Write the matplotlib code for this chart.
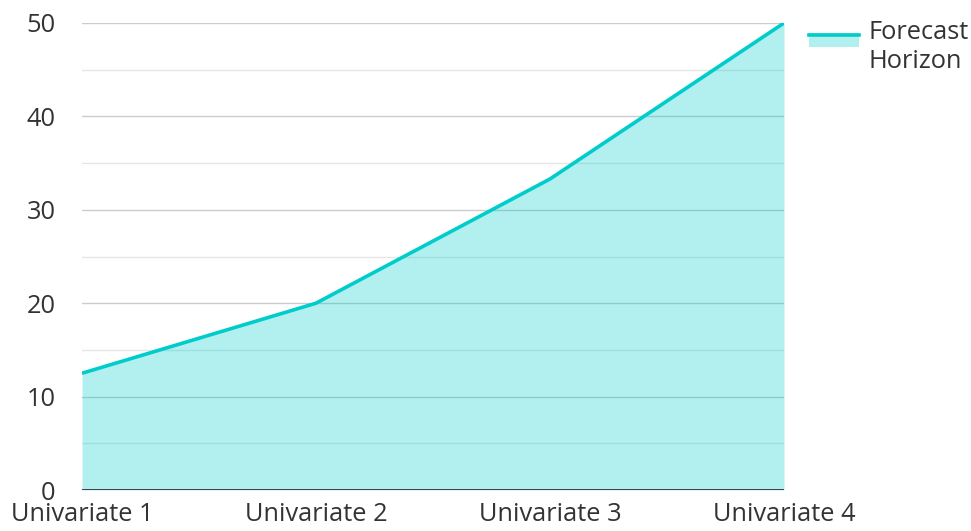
import matplotlib.pyplot as plt
from matplotlib.lines import Line2D
from matplotlib.patches import Rectangle

plt.rcParams['font.family'] = ['Open Sans', 'DejaVu Sans']

categories = ['Univariate 1', 'Univariate 2', 'Univariate 3', 'Univariate 4']
values = [12.5, 20, 33.3, 50]
series_name = 'Forecast\nHorizon'

line_color = '#00CCCC'
fill_color = '#00CCCC'
fs = 18.3

fig = plt.figure(figsize=(9.71, 5.31), dpi=100)
ax = fig.add_axes([82 / 971, 1 - 490 / 531, (784 - 82) / 971, (490 - 23) / 531])

x = range(len(categories))
ax.fill_between(x, values, 0, color=fill_color, alpha=0.3, lw=0, zorder=2)
ax.plot(x, values, color=line_color, lw=2.6, zorder=3, solid_capstyle='butt')

ax.set_xlim(0, len(categories) - 1)
ax.set_ylim(0, 50)
ax.set_yticks(range(0, 51, 10))
ax.set_xticks(list(x))
ax.set_xticklabels(categories)

for y in range(10, 51, 10):
    ax.axhline(y, color='#cccccc', lw=1, zorder=1)
for y in range(5, 50, 10):
    ax.axhline(y, color='#e6e6e6', lw=1, zorder=1)
ax.axhline(0, color='#333333', lw=2, zorder=4)

for s in ax.spines.values():
    s.set_visible(False)
ax.tick_params(axis='both', which='both', length=0, labelsize=fs, colors='#333333')
ax.tick_params(axis='y', pad=19)
ax.tick_params(axis='x', pad=8.5)
ax.patch.set_visible(False)

# legend
fig.add_artist(Rectangle((809 / 971, 1 - 47 / 531), 50 / 971, 14 / 531,
                         transform=fig.transFigure, color=fill_color, alpha=0.3, lw=0))
fig.add_artist(Line2D([809 / 971, 859 / 971], [1 - 35 / 531, 1 - 35 / 531],
                      transform=fig.transFigure, color=line_color, lw=2.6))
fig.text(868 / 971, 1 - 20 / 531, series_name, ha='left', va='top',
         fontsize=fs, color='#333333', linespacing=1.2)

fig.savefig('out.png', dpi=100)
